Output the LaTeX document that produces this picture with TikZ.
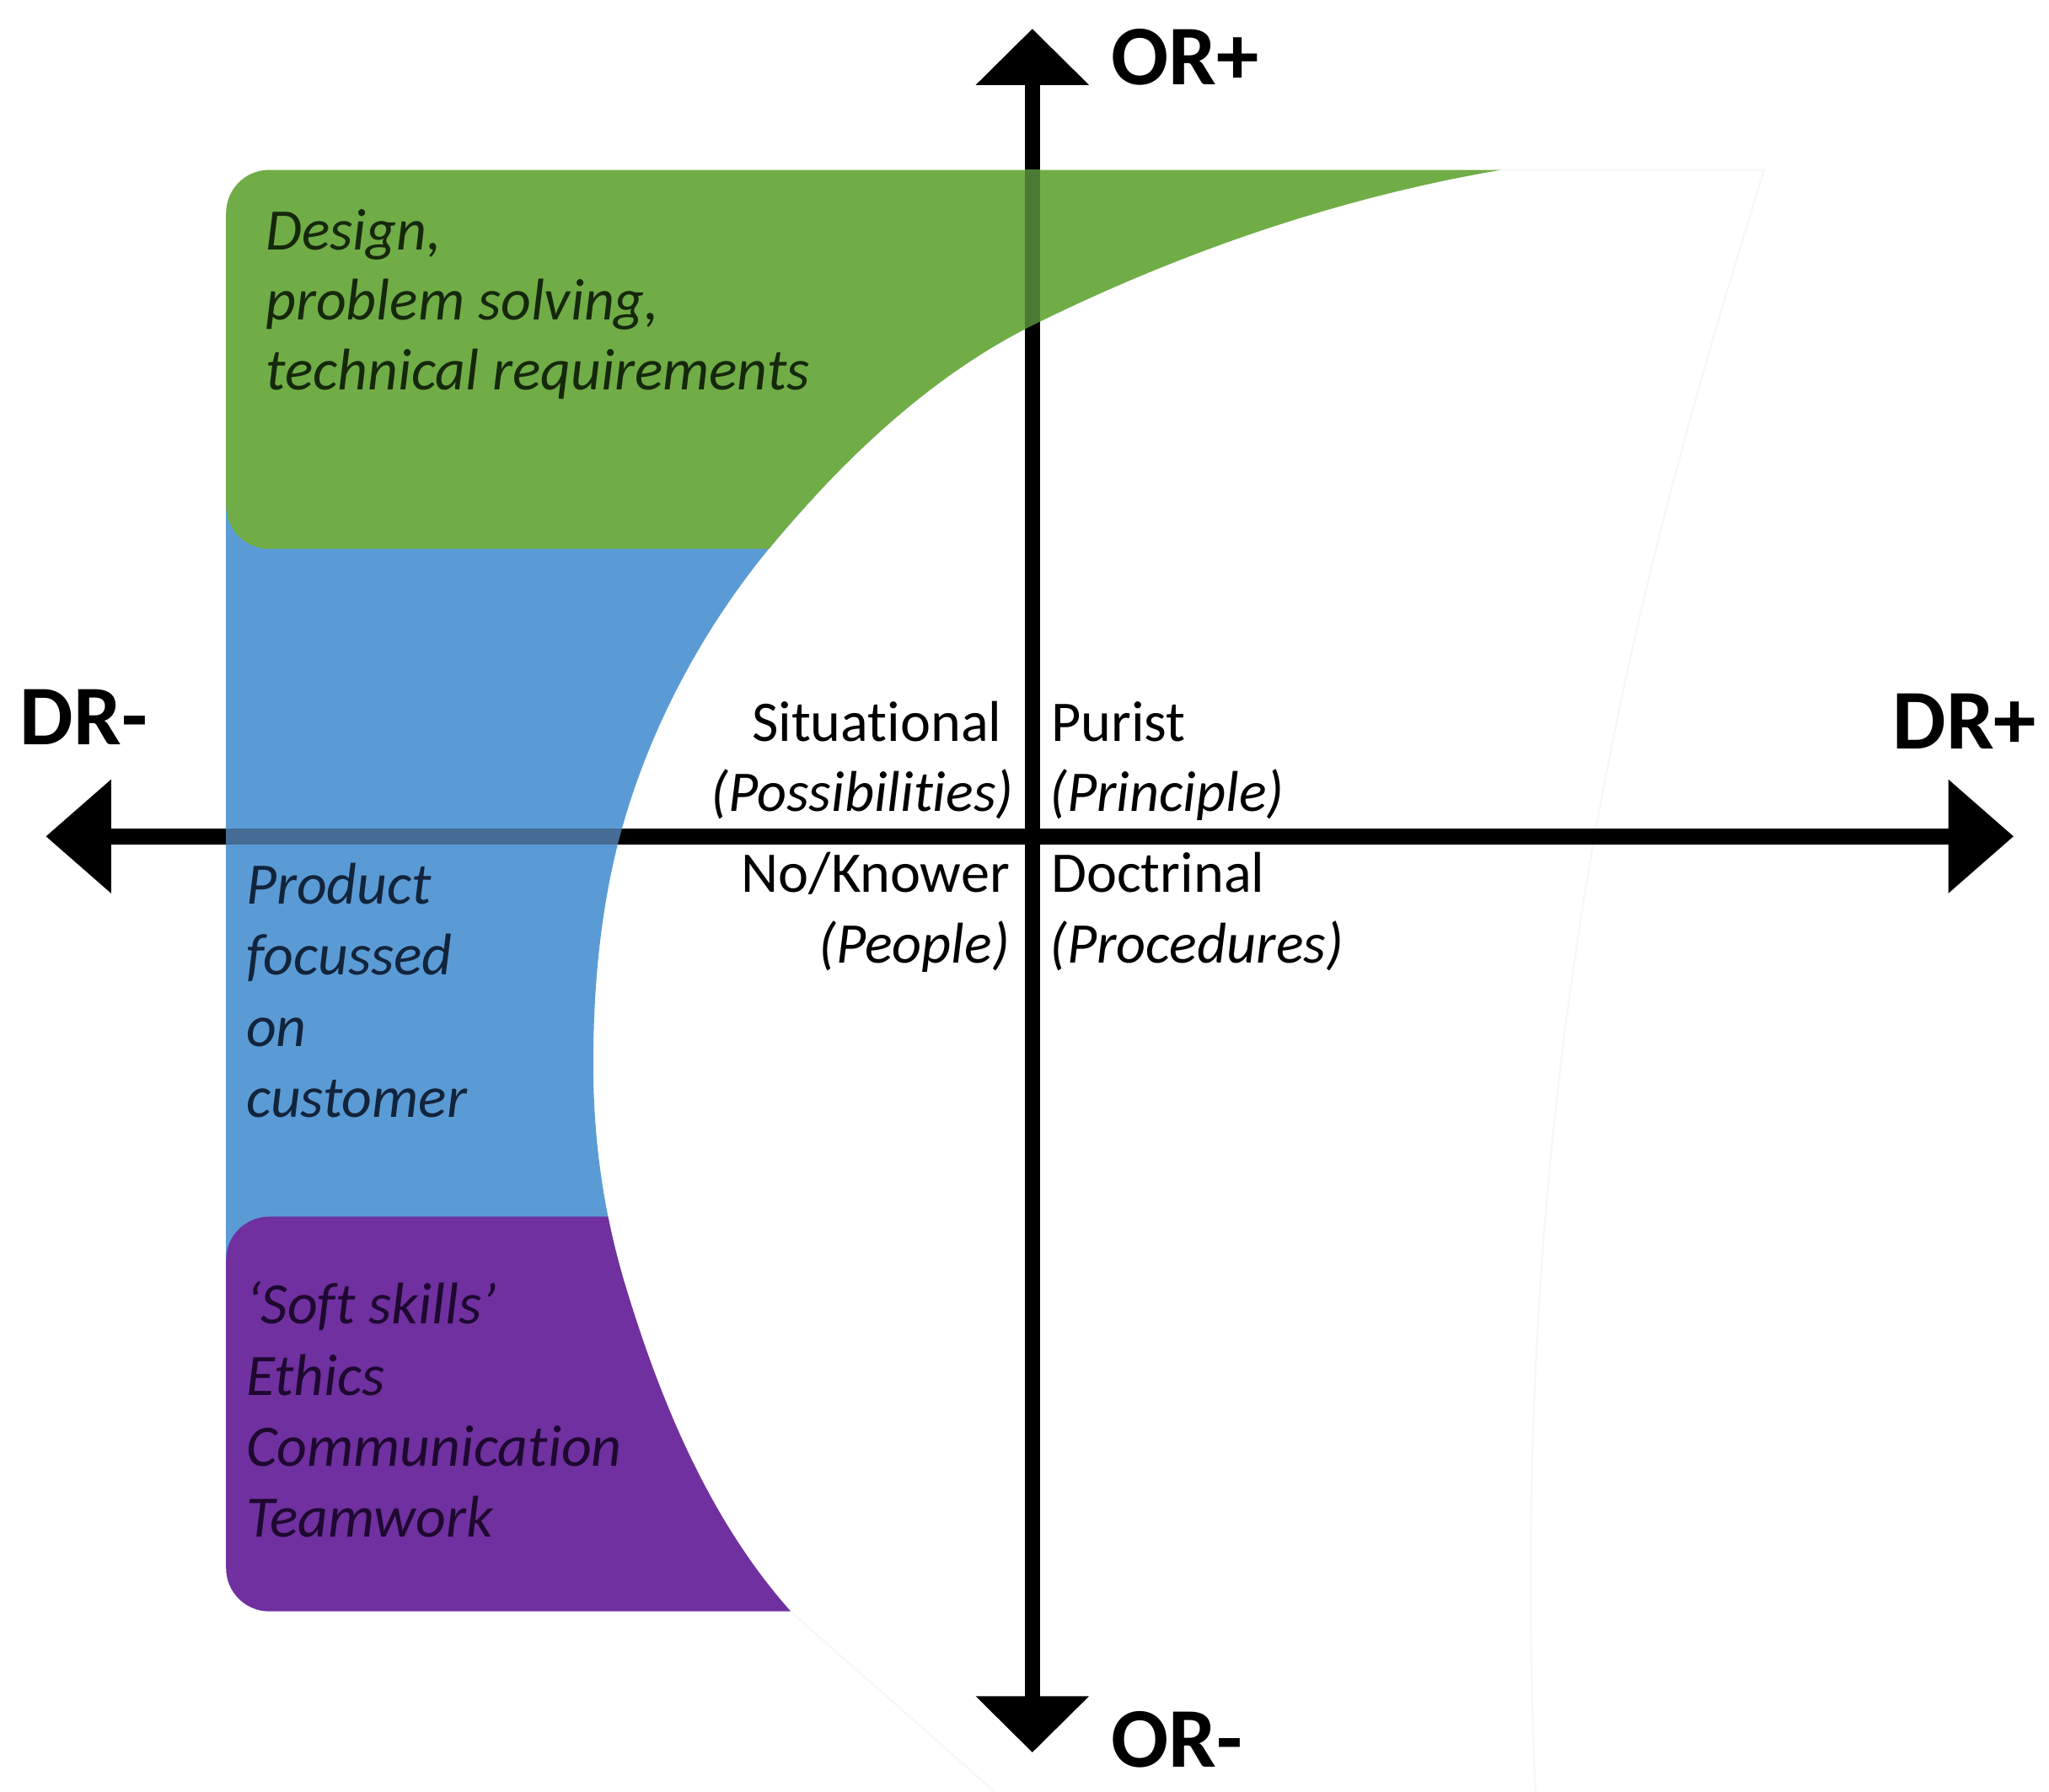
\documentclass[tikz,border=0pt]{standalone}
\usepackage{fontspec}
\setmainfont{Carlito}[Ligatures=NoCommon]
\usetikzlibrary{arrows.meta}
\definecolor{gfill}{RGB}{112,173,71}
\definecolor{bfill}{RGB}{91,155,213}
\definecolor{pfill}{RGB}{112,48,160}
\definecolor{gdark}{RGB}{74,122,52}
\definecolor{bdark}{RGB}{68,108,148}
\definecolor{gtext}{RGB}{22,40,12}
\definecolor{btext}{RGB}{18,36,60}
\definecolor{ptext}{RGB}{30,8,48}
\def\leftregion{(0,-50) -- (1149,-50) -- (1149,130) .. controls (1025,151) and (903,193) .. (790,249) .. controls (712,288) and (646,351) .. (590,418) .. controls (536,483) and (494,563) .. (473,645) .. controls (459,700) and (454,758) .. (454,815) .. controls (454,872) and (462,930) .. (479,985) .. controls (506,1074) and (544,1165) .. (606,1234) -- (761,1390) -- (0,1390) -- cycle}
\tikzset{
  axisline/.style={line width=6pt, black},
  hhead/.style={{Triangle[width=42pt,length=25pt]}-{Triangle[width=42pt,length=25pt]}},
  vhead/.style={{Triangle[width=42pt,length=21.5pt]}-{Triangle[width=42pt,length=21.5pt]}},
  axlbl/.style={inner sep=0pt, anchor=base west, font=\fontsize{32.5}{38}\selectfont\bfseries},
  reglbl/.style={inner sep=0pt, anchor=base west, font=\fontsize{22.5}{27}\selectfont\itshape},
  qlbl/.style={inner sep=0pt, font=\fontsize{22}{27}\selectfont},
  qit/.style={inner sep=0pt, font=\fontsize{22}{27}\selectfont\itshape},
  faint/.style={line width=0.8pt, black!3}
}
\begin{document}
\begin{tikzpicture}[x=0.5pt, y=-0.5pt]
\useasboundingbox (0,0) rectangle (1568,1371);
% faint outline of the white shape
\draw[faint] (1149,130) -- (1350,130) .. controls (1260,420) and (1150,800) .. (1175,1371);
\draw[faint] (606,1234) -- (761,1371);
% blue band
\begin{scope}
  \clip (173,380) rectangle (1300,975);
  \fill[bfill] \leftregion;
\end{scope}
% green band
\begin{scope}
  \clip[rounded corners=16.5pt] (173,130) rectangle (1300,420);
  \fill[gfill] \leftregion;
\end{scope}
% purple band
\begin{scope}
  \clip[rounded corners=16.5pt] (173,931) rectangle (1300,1233);
  \fill[pfill] \leftregion;
\end{scope}
% axes
\coordinate (L) at (35,640);
\coordinate (R) at (1541,640);
\coordinate (T) at (790,22);
\coordinate (B) at (790,1341);
\draw[axisline, hhead] (L) -- (R);
\draw[axisline, vhead] (B) -- (T);
% axis seen through the coloured bands
\begin{scope}
  \clip (173,130) rectangle (1300,420);
  \clip \leftregion;
  \draw[line width=6pt, gdark] (T) -- (B);
\end{scope}
\begin{scope}
  \clip (173,420) rectangle (1300,931);
  \clip \leftregion;
  \draw[line width=6pt, bdark] (L) -- (R);
\end{scope}
% axis labels
\node[axlbl] (orp) at (850,65) {OR+};
\node[axlbl] (orm) at (850,1352) {OR-};
\node[axlbl] (drm) at (15,570) {DR-};
\node[axlbl] (drp) at (1448,573) {DR+};
% green text
\node[reglbl, text=gtext] (g1) at (203,191) {Design,};
\node[reglbl, text=gtext] (g2) at (203,245) {problem solving,};
\node[reglbl, text=gtext] (g3) at (203,298) {technical requirements};
% blue text
\node[reglbl, text=btext] (b1) at (188,692) {Product};
\node[reglbl, text=btext] (b2) at (188,746) {focussed};
\node[reglbl, text=btext] (b3) at (188,801) {on};
\node[reglbl, text=btext] (b4) at (188,855) {customer};
% purple text
\node[reglbl, text=ptext] (p1) at (188,1013) {‘Soft skills’};
\node[reglbl, text=ptext] (p2) at (188,1068) {Ethics};
\node[reglbl, text=ptext] (p3) at (188,1122) {Communication};
\node[reglbl, text=ptext] (p4) at (188,1176) {Teamwork};
% quadrant labels
\node[qlbl, anchor=base east] (q1a) at (767,567) {Situational};
\node[qit, anchor=base east] (q1b) at (776,621) {(Possibilities)};
\node[qlbl, anchor=base west] (q2a) at (804,567) {Purist};
\node[qit, anchor=base west] (q2b) at (803,621) {(Principle)};
\node[qlbl, anchor=base east] (q3a) at (773,683) {No/Knower};
\node[qit, anchor=base east] (q3b) at (773,737) {(People)};
\node[qlbl, anchor=base west] (q4a) at (804,683) {Doctrinal};
\node[qit, anchor=base west] (q4b) at (803,737) {(Procedures)};
\end{tikzpicture}
\end{document}
